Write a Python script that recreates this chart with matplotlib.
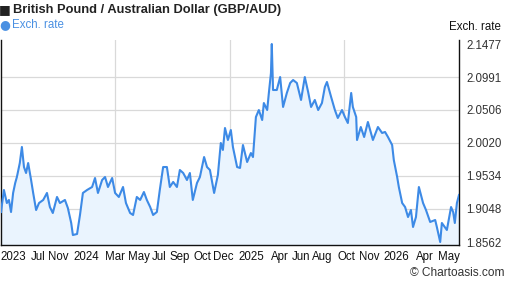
import matplotlib
matplotlib.use("Agg")
import matplotlib.pyplot as plt
import numpy as np

# ---- data (day offset from start of 3-year window, GBP/AUD rate) ----
days = [0, 7, 14, 19, 24, 29, 34, 38, 45, 50, 55, 60, 65, 72, 77, 84, 91, 101, 110, 117,
        124, 134, 141, 153, 160, 168, 172, 182, 189, 196, 206, 218, 225, 232, 242, 249, 256, 266, 273, 282,
        292, 299, 309, 316, 325, 333, 342, 349, 357, 364, 373, 380, 388, 397, 404, 412, 421, 428, 436, 445,
        452, 459, 469, 476, 486, 493, 500, 510, 519, 526, 531, 536, 543, 550, 555, 565, 572, 579, 589, 598,
        603, 610, 617, 625, 629, 637, 641, 646, 648, 651, 660, 668, 675, 684, 692, 699, 708, 718, 727, 735,
        742, 751, 759, 768, 775, 780, 790, 799, 806, 816, 823, 830, 838, 842, 850, 852, 861, 869, 878, 890,
        902, 912, 919, 926, 936, 940, 948, 952, 960, 967, 974, 981, 986, 993, 1000, 1010, 1017, 1027, 1039, 1043,
        1051, 1055, 1062, 1067, 1077, 1082, 1086, 1091, 1096]
rates = [1.9004, 1.9328, 1.9136, 1.9181, 1.9004, 1.9284, 1.9431, 1.9519, 1.9725, 1.9961,
         1.9666, 1.9578, 1.9725, 1.9475, 1.9284, 1.9033, 1.9136, 1.9181, 1.9284, 1.9077,
         1.8989, 1.9225, 1.9136, 1.9181, 1.9063, 1.8842, 1.8665, 1.8680, 1.8960, 1.9284,
         1.9328, 1.9372, 1.9504, 1.9284, 1.9475, 1.9519, 1.9372, 1.9504, 1.9284, 1.9225,
         1.9372, 1.9136, 1.8989, 1.8960, 1.9225, 1.9181, 1.9298, 1.9181, 1.9077, 1.8960,
         1.9004, 1.9328, 1.9666, 1.9666, 1.9372, 1.9446, 1.9372, 1.9622, 1.9578, 1.9475,
         1.9578, 1.9181, 1.9431, 1.9519, 1.9813, 1.9666, 1.9622, 1.9284, 1.9549, 2.0020,
         1.9917, 2.0240, 2.0064, 2.0211, 1.9961, 1.9666, 1.9652, 1.9990, 1.9740, 1.9872,
         1.9813, 2.0402, 2.0505, 2.0358, 2.0608, 2.0505, 2.0756, 2.1050, 2.1477, 2.0800,
         2.0800, 2.0991, 2.0550, 2.0756, 2.0903, 2.0947, 2.0903, 2.0653, 2.0991, 2.0770,
         2.0550, 2.0653, 2.0505, 2.0608, 2.0844, 2.0918, 2.0697, 2.0505, 2.0388, 2.0505,
         2.0402, 2.0314, 2.0756, 2.0550, 2.0402, 2.0064, 2.0255, 2.0108, 2.0329, 2.0064,
         2.0255, 2.0167, 2.0182, 2.0108, 1.9990, 1.9769, 1.9519, 1.9372, 1.9136, 1.9077,
         1.8930, 1.9033, 1.8783, 1.8930, 1.9372, 1.9136, 1.9033, 1.8857, 1.8886, 1.8783,
         1.8562, 1.8842, 1.8783, 1.8739, 1.9077, 1.9004, 1.8842, 1.9136, 1.9254]

ytick_vals = [1.8562, 1.9048, 1.9534, 2.0020, 2.0506, 2.0991, 2.1477]
ytick_labels = ["1.8562", "1.9048", "1.9534", "2.0020", "2.0506", "2.0991", "2.1477"]
xtick_labels = ["2023", "Jul", "Nov", "2024", "Mar", "May", "Jul", "Sep", "Oct", "Dec",
                "2025", "Apr", "Jun", "Aug", "Oct", "Nov", "2026", "Apr", "May"]

# ---- layout / style ----
xtick_pos = [29, 88, 136, 203, 273, 330, 378, 427, 481, 531, 598, 668, 718, 769, 826, 881, 945, 1015, 1072]
W, H = 507, 288
font = "Liberation Sans"
line_col = "#3d8ae6"
fill_col = "#eaf4fe"

fig = plt.figure(figsize=(W / 100, H / 100), dpi=100)
ax = fig.add_axes([1 / W, (H - 245) / H, 458 / W, 205 / H])

ax.fill_between(days, rates, 1.80, color=fill_col, lw=0, zorder=1)
ax.plot(days, rates, color=line_col, lw=1.5, zorder=3, solid_joinstyle="round")

ax.set_xlim(0, 1096)
ax.set_ylim(1.8518, 2.1536)

for v in ytick_vals[1:-1]:
    ax.axhline(v, color="#d9d9d9", lw=0.9, zorder=0)
for q in (0.25, 0.5, 0.75):
    ax.axvline(1096 * q, color="#d9d9d9", lw=0.9, zorder=0)

ax.yaxis.tick_right()
ax.set_yticks(ytick_vals)
ax.set_yticklabels(ytick_labels, fontsize=8.3, color="#333333", family=font)
ax.tick_params(axis="y", length=0, pad=5)
ax.set_xticks(xtick_pos)
ax.set_xticklabels(xtick_labels, fontsize=8.3, color="#111111", family=font)
ax.tick_params(axis="x", length=0, pad=4)

ax.spines["top"].set_visible(False)
for s in ("left", "right", "bottom"):
    ax.spines[s].set_color("#111111")
    ax.spines[s].set_linewidth(1.0)

fig.text(-1 / W, 1 - 10 / H, "■", fontsize=9, color="#222222", family="DejaVu Sans",
         va="center", ha="left")
fig.text(13 / W, 1 - 10 / H, "British Pound / Australian Dollar (GBP/AUD)", fontsize=9.3,
         fontweight="bold", color="#222222", family=font, va="center", ha="left")
fig.text(-1 / W, 1 - 25 / H, "●", fontsize=9, color="#4a90e2", family="DejaVu Sans", va="center", ha="left")
fig.text(12 / W, 1 - 25 / H, "Exch. rate", fontsize=8.3, color="#4a90e2", family=font, va="center", ha="left")
fig.text(501 / W, 1 - 27 / H, "Exch. rate", fontsize=8.3, color="#111111", family=font, va="center", ha="right")
fig.text(505 / W, 1 - 273 / H, "© Chartoasis.com", fontsize=8.6, color="#333333", family=font, va="center", ha="right")

fig.savefig("out.png", dpi=100)
